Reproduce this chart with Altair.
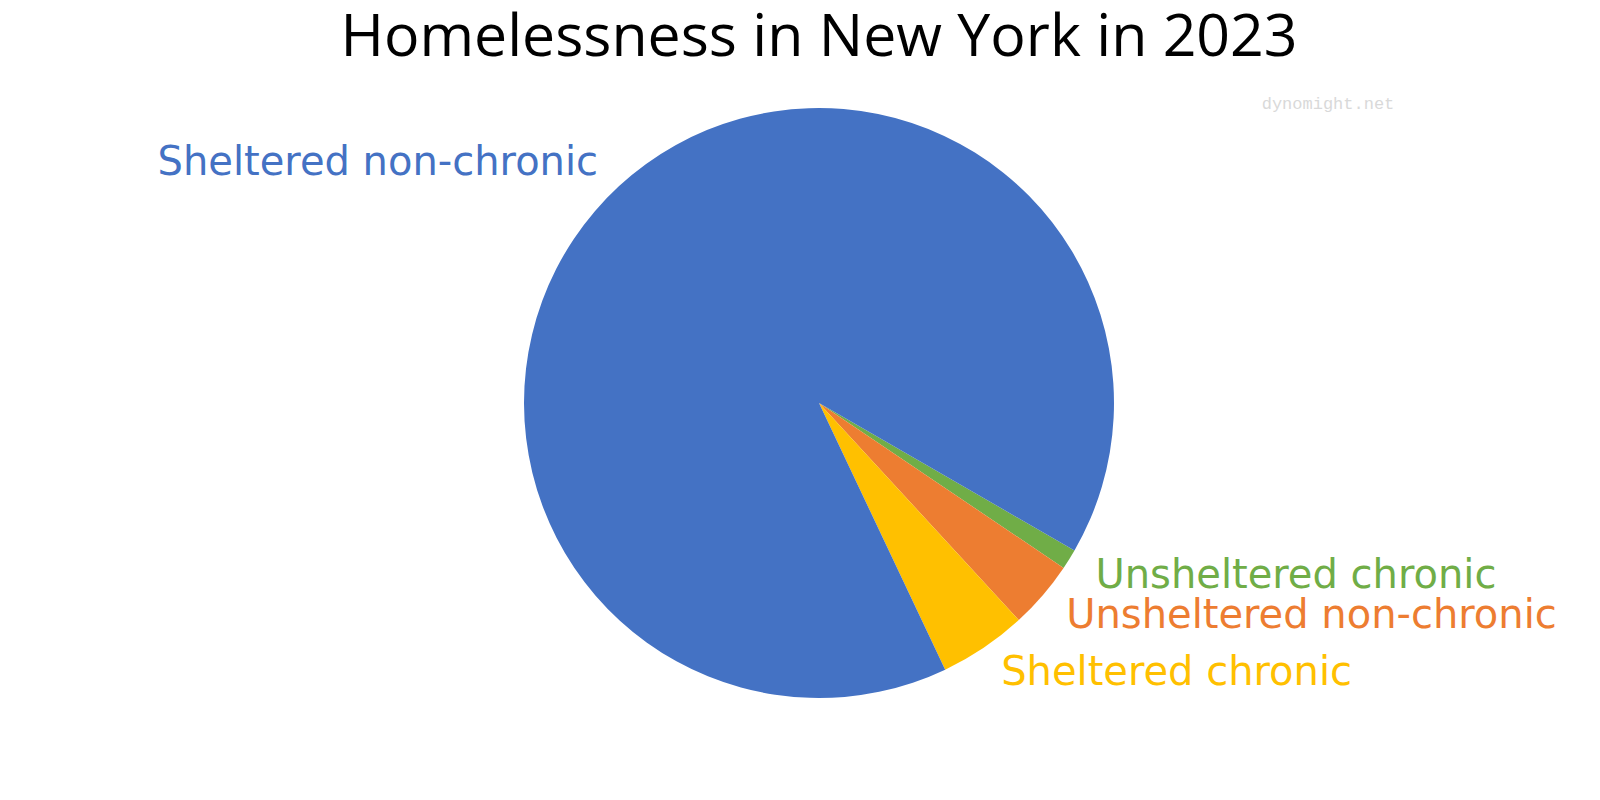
import math
import altair as alt
import pandas as pd

# Data
categories = ["Unsheltered chronic", "Unsheltered non-chronic", "Sheltered chronic", "Sheltered non-chronic"]
counts = [970, 3250, 4200, 79000]
stack_order = [0, 1, 2, 3]
label_side = ["right", "right", "right", "left"]
colors = ["#70AD47", "#ED7D31", "#FFC000", "#4472C4"]

title_text = "Homelessness in New York in 2023"
watermark_text = "dynomight.net"

df = pd.DataFrame({
    "category": categories,
    "count": counts,
    "order": stack_order,
    "label_right": [c if s == "right" else "" for c, s in zip(categories, label_side)],
    "label_left": [c if s == "left" else "" for c, s in zip(categories, label_side)],
})

start = math.radians(120)
theta_scale = alt.Scale(range=[start, start + 2 * math.pi])
color_scale = alt.Scale(domain=categories, range=colors)

base = alt.Chart(df).encode(
    theta=alt.Theta("count:Q", stack=True, scale=theta_scale),
    order=alt.Order("order:Q"),
    color=alt.Color("category:N", scale=color_scale, legend=None),
)

pie = base.mark_arc(outerRadius=295, strokeWidth=0)

label_font = "DejaVu Sans"
label_size = 40
labels_r = base.mark_text(radius=326, align="left", baseline="middle", font=label_font, fontSize=label_size).encode(
    text="label_right:N"
)
labels_l = base.mark_text(radius=326, align="right", baseline="middle", font=label_font, fontSize=label_size).encode(
    text="label_left:N"
)

title = alt.Chart(pd.DataFrame({"t": [title_text]})).mark_text(
    font="Open Sans", fontSize=59, color="#000000", align="center", baseline="middle"
).encode(text="t:N", x=alt.value(781), y=alt.value(32))

watermark = alt.Chart(pd.DataFrame({"t": [watermark_text]})).mark_text(
    font="Liberation Mono", fontSize=17, color="#d9d9d9", align="center", baseline="middle"
).encode(text="t:N", x=alt.value(1290), y=alt.value(98))

chart = alt.layer(pie, labels_r, labels_l, title, watermark).properties(
    width=1562,
    height=794,
    padding={"left": 38, "top": 6, "right": 0, "bottom": 0},
    autosize=alt.AutoSizeParams(type="none"),
    background="#ffffff",
).configure_view(strokeWidth=0, stroke="transparent")

chart.save("out.html", embed_options={"renderer": "svg", "actions": False})
